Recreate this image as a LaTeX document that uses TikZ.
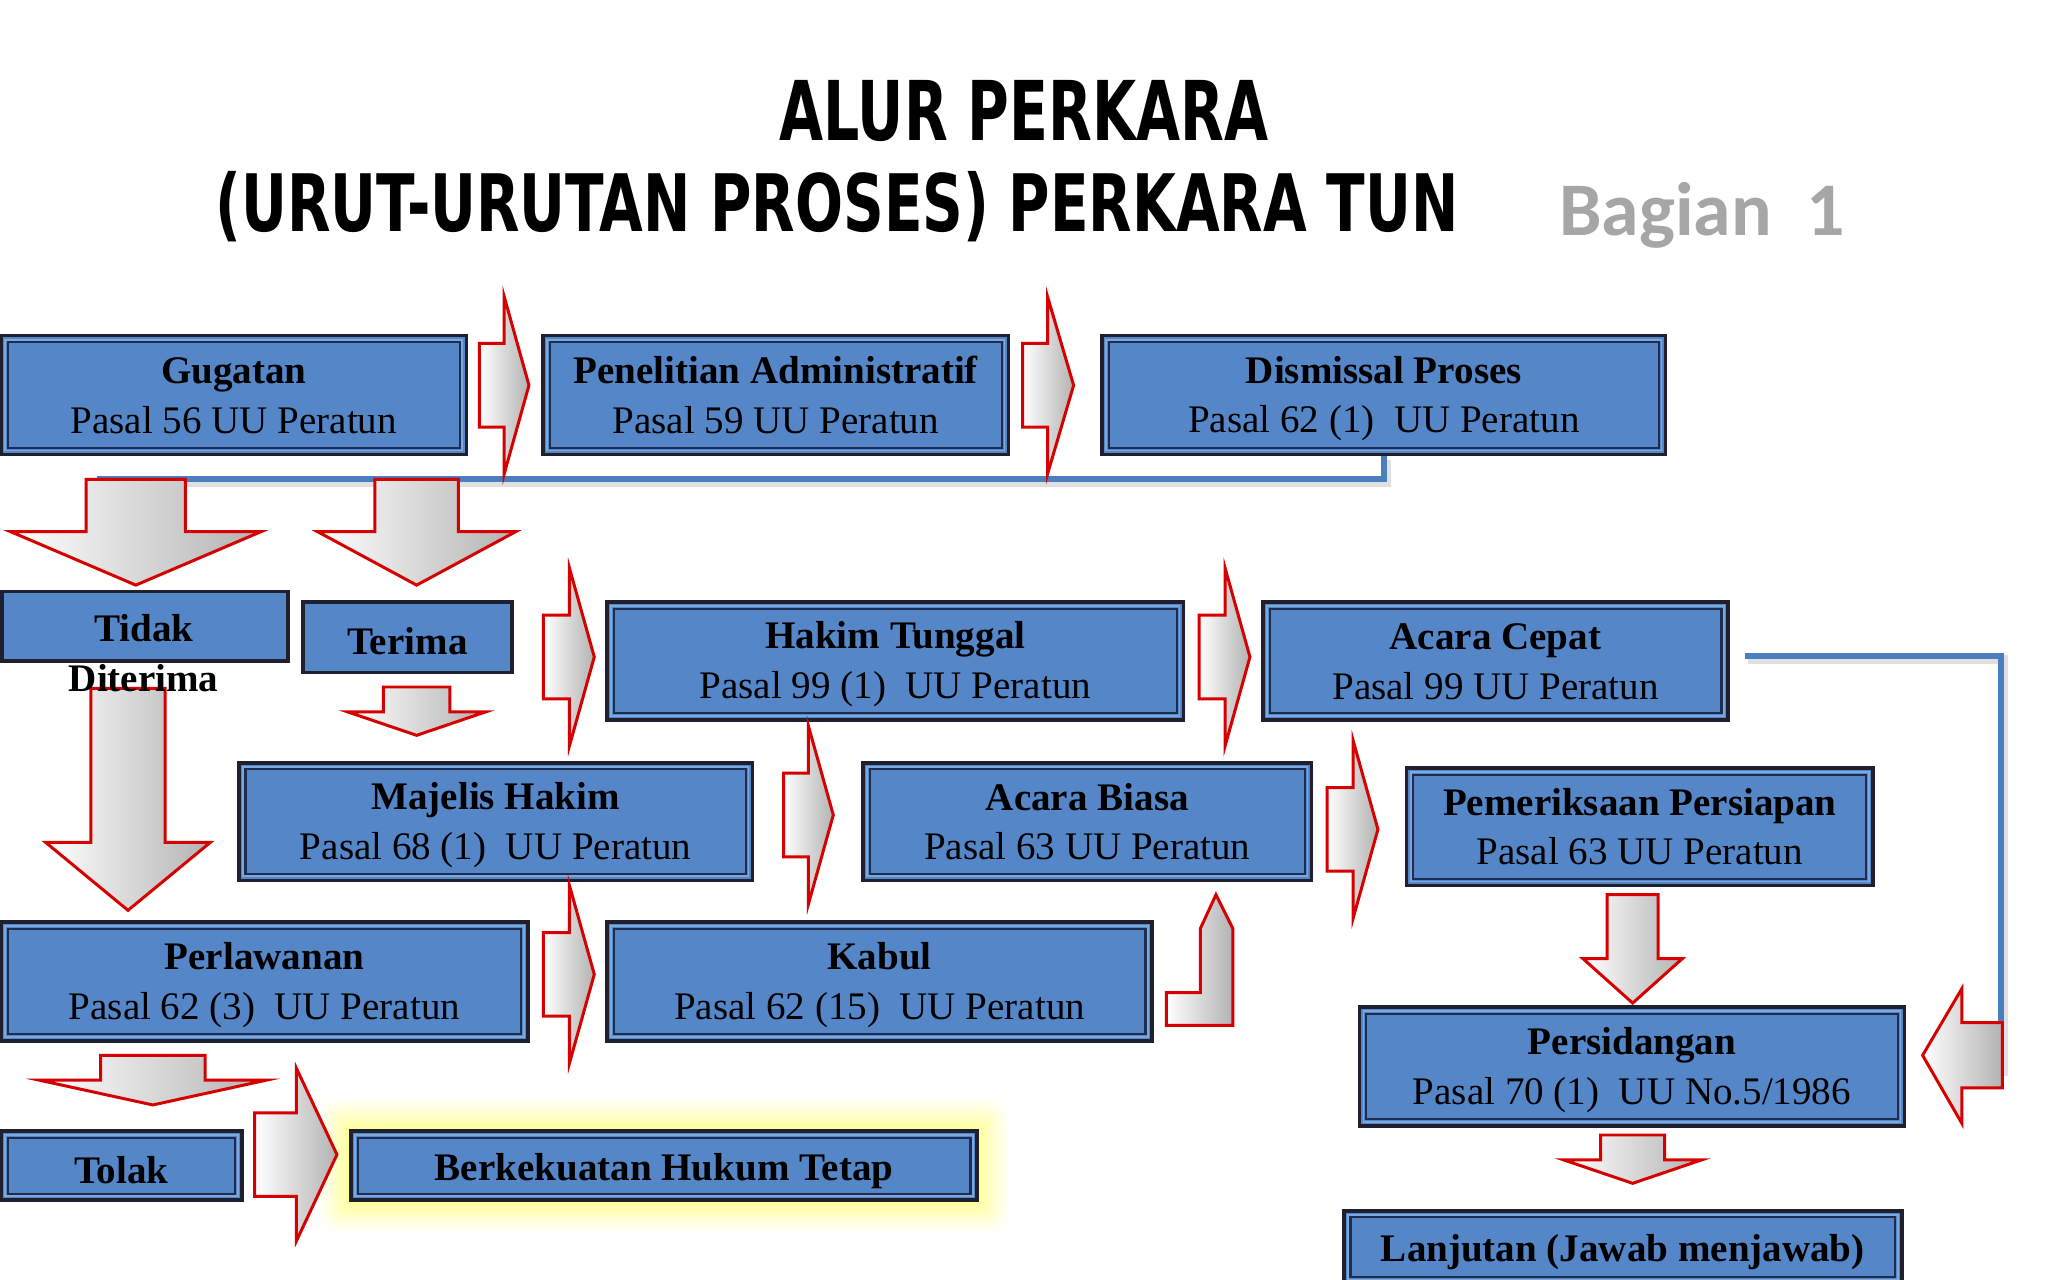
\documentclass[tikz,border=0pt]{standalone}
\usepackage{fontspec}
\usepackage{graphicx}
\setmainfont{Liberation Serif}
\newfontfamily\titlefont{DejaVu Sans}
\newfontfamily\bagfont{Carlito}
\definecolor{boxfill}{RGB}{84,134,200}
\definecolor{boxline}{RGB}{30,32,45}
\definecolor{frameline}{RGB}{28,45,80}
\definecolor{framelight}{RGB}{125,168,222}
\definecolor{arrred}{RGB}{215,0,0}
\definecolor{connblue}{RGB}{74,126,190}
\definecolor{baggray}{RGB}{166,166,166}
\definecolor{glowy}{RGB}{255,255,100}
\tikzset{
  boxnode/.style={draw=boxline, fill=boxfill, line width=0.8pt, inner sep=0pt, align=center,
    font=\fontsize{8.5}{10.8}\selectfont},
  inframe/.style={draw=frameline, line width=0.45pt},
  inlight/.style={draw=framelight, line width=0.4pt},
  arrowshape/.style={draw=arrred, line width=0.65pt, line join=miter,
    left color=white, middle color=white, right color=black!30},
  conn/.style={draw=connblue, line width=1.3pt},
  connshadow/.style={draw=black!12, line width=1.8pt},
  txt/.style={font=\fontsize{8.5}{10.8}\selectfont\bfseries, inner sep=0pt, align=center},
}
% two-line box content with fixed struts
\newcommand\two[2]{\rule{0pt}{7.4pt}\textbf{#1}\\#2\rule[-1.6pt]{0pt}{1.6pt}}
% one-line box content
\newcommand\one[1]{\rule[-0.5pt]{0pt}{8.6pt}\textbf{#1}}
% x0 x1 x2 yc shaft-half head-half
\newcommand\rarr[6]{\path[arrowshape] (#1,#4-#5) -- (#2,#4-#5) -- (#2,#4-#6) -- (#3,#4) -- (#2,#4+#6) -- (#2,#4+#5) -- (#1,#4+#5) -- cycle;}
% xc y0 y1 y2 shaft-half head-half
\newcommand\darr[6]{\path[arrowshape] (#1-#5,#2) -- (#1+#5,#2) -- (#1+#5,#3) -- (#1+#6,#3) -- (#1,#4) -- (#1-#6,#3) -- (#1-#5,#3) -- cycle;}
\newcommand\inframeit[1]{%
  \draw[inlight] ([shift={(4.5,4.5)}]#1.north west) rectangle ([shift={(-4.5,-4.5)}]#1.south east);
  \draw[inframe] ([shift={(6.5,6.5)}]#1.north west) rectangle ([shift={(-6.5,-6.5)}]#1.south east);}
\begin{document}
\begin{tikzpicture}[x=0.01cm,y=-0.01cm]
\useasboundingbox (0,0) rectangle (1568,980);
\fill[white] (0,0) rectangle (1568,980);

% title
\node[inner sep=0pt] (t1) at (784,85) {\resizebox{3.74cm}{0.46cm}{\titlefont\bfseries ALUR PERKARA}};
\node[inner sep=0pt] (t2) at (641,158) {\resizebox*{9.51cm}{0.54cm}{\titlefont\bfseries (URUT-URUTAN PROSES) PERKARA TUN}};
\node[inner sep=0pt, anchor=base, text=baggray, font=\bagfont\bfseries\fontsize{16.5}{18}\selectfont] (bag) at (1303,180) {Bagian~ 1};

% glow
\foreach \g/\o in {24/0.08,20/0.1,16/0.12,12/0.15,8/0.18,4/0.22}{
  \fill[glowy, opacity=\o, rounded corners=\g*0.006cm] (269-\g,866-\g) rectangle (748+\g,919+\g);
}

% boxes
\node[boxnode, minimum width=3.56cm, minimum height=0.91cm] (gug) at (179,302.5) {\two{Gugatan}{Pasal 56 UU Peratun}};
\node[boxnode, minimum width=3.56cm, minimum height=0.91cm] (pen) at (594,302.5) {\two{Penelitian Administratif}{Pasal 59 UU Peratun}};
\node[boxnode, minimum width=4.31cm, minimum height=0.91cm] (dis) at (1059.5,302.5) {\two{Dismissal Proses}{Pasal 62 (1)~ UU Peratun}};
\node[boxnode, minimum width=2.19cm, minimum height=0.53cm] (tid) at (111,479.5) {};
\node[boxnode, minimum width=1.60cm, minimum height=0.54cm] (ter) at (312,488) {\one{Terima}};
\node[boxnode, minimum width=4.41cm, minimum height=0.90cm] (hak) at (685.5,506) {\two{Hakim Tunggal}{Pasal 99 (1)~ UU Peratun}};
\node[boxnode, minimum width=3.56cm, minimum height=0.90cm] (cep) at (1145,506) {\two{Acara Cepat}{Pasal 99 UU Peratun}};
\node[boxnode, minimum width=3.93cm, minimum height=0.90cm] (maj) at (379.5,629) {\two{Majelis Hakim}{Pasal 68 (1)~ UU Peratun}};
\node[boxnode, minimum width=3.43cm, minimum height=0.90cm] (bia) at (832.5,629) {\two{Acara Biasa}{Pasal 63 UU Peratun}};
\node[boxnode, minimum width=3.57cm, minimum height=0.90cm] (pem) at (1255.5,633) {\two{Pemeriksaan Persiapan}{Pasal 63 UU Peratun}};
\node[boxnode, minimum width=4.03cm, minimum height=0.91cm] (per) at (202.5,751.5) {\two{Perlawanan}{Pasal 62 (3)~ UU Peratun}};
\node[boxnode, minimum width=4.17cm, minimum height=0.91cm] (kab) at (673.5,751.5) {\two{Kabul}{Pasal 62 (15)~ UU Peratun}};
\node[boxnode, minimum width=4.17cm, minimum height=0.91cm] (sid) at (1249.5,816.5) {\two{Persidangan}{Pasal 70 (1)~ UU No.5/1986}};
\node[boxnode, minimum width=1.84cm, minimum height=0.53cm] (tol) at (93,892.5) {\one{Tolak}};
\node[boxnode, minimum width=4.79cm, minimum height=0.53cm] (bhk) at (508.5,892.5) {\one{Berkekuatan Hukum Tetap}};
\node[boxnode, minimum width=4.27cm, minimum height=0.56cm] (lan) at (1242.5,955) {\one{Lanjutan (Jawab menjawab)}};

\foreach \b in {gug,pen,dis,hak,cep,maj,bia,pem,per,kab,sid,tol,bhk,lan}{\inframeit{\b}}

% connectors
\coordinate (l1end) at (74,367);
\coordinate (l2start) at (1336,502);
\coordinate (l2end) at (1532,821);
\draw[connshadow] ([shift={(2,3)}]dis.south) |- ([shift={(2,3)}]l1end);
\draw[connshadow] ([shift={(2,3)}]l2start) -| ([shift={(2,3)}]l2end);
\draw[conn] (dis.south) |- (l1end);
\draw[conn] (l2start) -| (l2end);

% right arrows
\rarr{367}{386}{405}{295}{32}{68}
\rarr{783}{802}{822}{295}{32}{68}
\rarr{416}{436}{455}{503}{32}{68}
\rarr{918}{938}{957}{503}{32}{68}
\rarr{600}{619}{638}{624}{32}{68}
\rarr{1016}{1036}{1055}{635}{32}{68}
\rarr{416}{436}{455}{746}{32}{68}
\rarr{195}{227}{258}{884}{32}{66}
% down arrows
\darr{104}{367}{407}{448}{38}{96}
\darr{319}{367}{407}{448}{32}{76}
\darr{319}{526}{545}{563}{25.5}{53}
\darr{98}{527}{645}{697}{28.5}{63}
\darr{117}{808}{827}{846}{40}{87}
\darr{1250}{685}{734}{768}{19.5}{38}
\darr{1250}{869}{888}{906}{24.5}{53}
% left arrow
\path[arrowshape] (1533,783) -- (1502,783) -- (1502,757) -- (1472,808) -- (1502,860) -- (1502,833) -- (1533,833) -- cycle;
% bent up arrow
\path[arrowshape] (931,685) -- (944,711) -- (944,785) -- (893,785) -- (893,760) -- (919,760) -- (919,711) -- cycle;

% Tidak Diterima text
\node[txt] (tidtxt) at (110,500) {Tidak\\Diterima};
\end{tikzpicture}
\end{document}
